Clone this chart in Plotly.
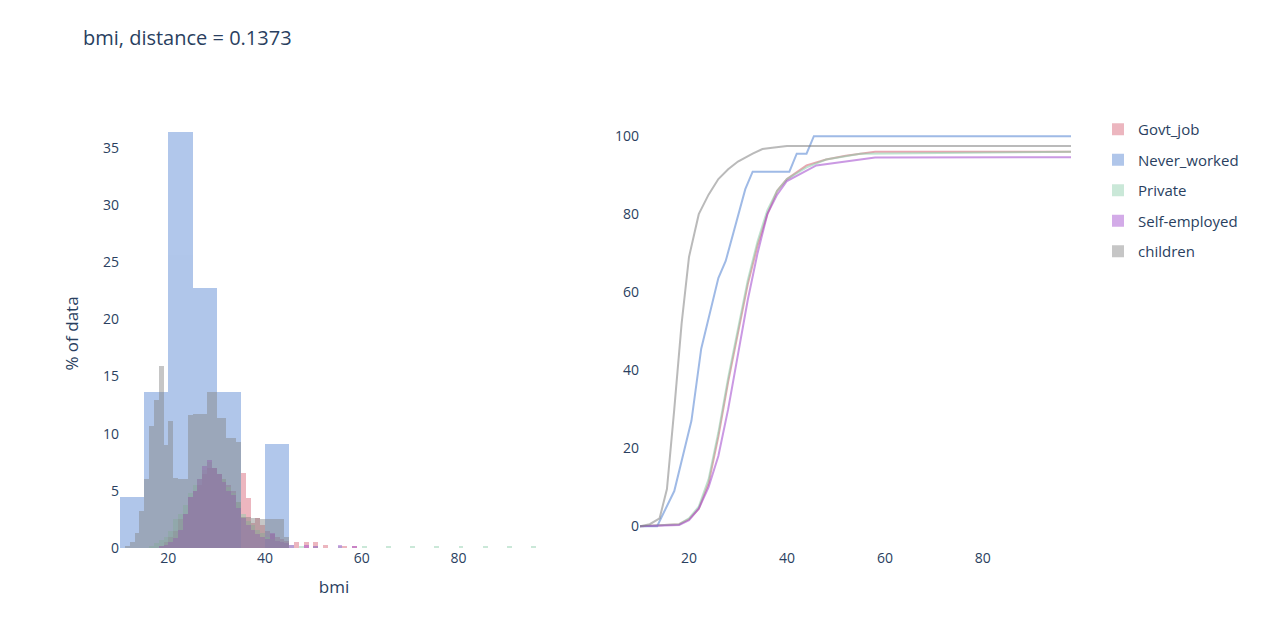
import plotly.graph_objects as go
import numpy as np

groups = ["Govt_job", "Never_worked", "Private", "Self-employed", "children"]
colors = ["rgb(214,96,115)", "rgb(82,130,210)", "rgb(140,205,170)", "rgb(160,70,205)", "rgb(130,130,130)"]

# histogram data (bin start, % of data), bin width per group
hist_width = {"Govt_job": 1, "Never_worked": 5, "Private": 1, "Self-employed": 1, "children": 1}
govt_x = [18,19,20,21,22,23,24,25,26,27,28,29,30,31,32,33,34,35,36,37,38,39,40,41,42,43,44,46,48,50,52,56,58]
govt_y = [0.2,0.5,1,1.5,2.5,3,4.5,5,5.5,6.5,7,7,6.5,6,5.5,5,4,6.6,4.4,2.2,2.6,2,1.5,1.2,1,0.8,0.6,0.5,0.5,0.5,0.3,0.2,0.2]
never_x = [10,15,20,25,30,35,40]
never_y = [4.5,13.6,36.4,22.7,13.6,0,9.1]
priv_x = [16,17,18,19,20,21,22,23,24,25,26,27,28,29,30,31,32,33,34,35,36,37,38,39,40,41,42,43,44,45,47,50,55,60,65,70,75,80,85,90,95]
priv_y = [0.2,0.4,0.7,1,1.5,2.5,3,3.8,4.8,5.5,6,6.8,7.5,7,6.5,6,5.3,4.8,4,3,2.4,2,1.6,1.3,1,0.8,0.6,0.5,0.4,0.3,0.2,0.15,0.1,0.1,0.1,0.1,0.1,0.1,0.1,0.1,0.1]
self_x = [18,19,20,21,22,23,24,25,26,27,28,29,30,31,32,33,34,35,36,37,38,39,40,41,42,43,44,45,48,50,55,58]
self_y = [0.2,0.3,0.5,0.9,1.6,3,4.5,5,6,7.2,7.7,7,6.5,5.8,5,4.6,3.5,2.6,2,1.6,1.2,1,0.8,1.3,0.6,0.5,0.4,0.3,0.3,0.2,0.3,0.2]
child_x = [11,12,13,14,15,16,17,18,19,20,21,22,23,24,25,26,27,28,29,30,31,32,33,34,35,36,37,38,39,40,41,42,43,44]
child_y = [0.2,0.5,1.3,3.2,6,10.7,12.9,15.9,9,11.1,6.1,6,6,11.6,11.7,11.7,11.7,13.6,13.6,11.4,11.4,9.6,9.6,9.3,2.7,2.7,2.6,2.6,2.5,2.5,2.5,2.5,2.5,1]

# cumulative curves (bmi, cumulative %)
cdf = {
    "Govt_job": ([10,18,20,22,24,26,28,30,32,34,36,38,40,44,48,52,58,98],
                 [0,0.5,1.8,4.5,11,23,37,50,62,72,80,86,89,92.5,94,95,96,96]),
    "Never_worked": ([10,13.5,17,20.5,22.5,26,27.5,31.5,33,40.5,42,44,45.5,98],
                     [0,0,9,27,45.5,63.6,68,86.4,90.9,90.9,95.5,95.5,100,100]),
    "Private": ([10,18,20,22,24,26,28,30,32,34,36,38,40,44,48,55,98],
                [0,0.5,2,5,12,24,38,51,63,73,81,86,89,92,94,95.5,96]),
    "Self-employed": ([10,18,20,22,24,26,28,30,32,34,36,38,40,46,52,58,98],
                      [0,0.3,1.5,4.5,10,18,30,44,58,70,80,85,88.5,92.5,93.5,94.5,94.6]),
    "children": ([10,12,14,15.5,17,18.5,20,22,24,26,28,30,33,35,37,40,98],
                 [0,0.5,2,9.5,30,52,69,80,85,89,91.5,93.5,95.5,96.7,97,97.5,97.5]),
}
hist = {"Govt_job": (govt_x, govt_y), "Never_worked": (never_x, never_y), "Private": (priv_x, priv_y),
        "Self-employed": (self_x, self_y), "children": (child_x, child_y)}

fig = go.Figure()
for g, c in zip(groups, colors):
    x, y = hist[g]
    w = hist_width[g]
    fig.add_trace(go.Bar(x=[v + w / 2 for v in x], y=y, width=w, name=g, marker_color=c,
                         opacity=0.45, marker_line_width=0, xaxis="x", yaxis="y", legendgroup=g))
for g, c in zip(groups, colors):
    x, y = cdf[g]
    fig.add_trace(go.Scatter(x=x, y=y, mode="lines", line=dict(color=c, width=2), opacity=0.55,
                             showlegend=False, xaxis="x2", yaxis="y2", legendgroup=g))

fig.update_layout(
    template="plotly_white", width=1280, height=620, barmode="overlay", bargap=0,
    margin=dict(l=0, r=0, t=0, b=0),
    font=dict(family="Open Sans", size=14, color="#2a3f5f"),
    title=dict(text="bmi, distance = 0.1373", x=75/1280, y=1-30/620, xanchor="left", yanchor="middle",
               font=dict(size=20)),
    xaxis=dict(domain=[112/1280, 540/1280], range=[10, 98.5], showgrid=False, zeroline=False,
               tickvals=[20, 40, 60, 80], title=dict(text="bmi", standoff=15), automargin=False),
    yaxis=dict(domain=[80/620, 1-111/620], range=[0, 37.5], showgrid=False, zeroline=False,
               title=dict(text="% of data", standoff=20), automargin=False),
    xaxis2=dict(domain=[632/1280, 1063/1280], range=[10, 98], showgrid=False, zeroline=False,
                tickvals=[20, 40, 60, 80], automargin=False, anchor="y2"),
    yaxis2=dict(domain=[80/620, 1-111/620], range=[-5.6, 104.4], showgrid=False, zeroline=False,
                automargin=False, anchor="x2"),
    legend=dict(x=1090/1280, y=1-105/620, xanchor="left", yanchor="top", font=dict(size=15),
                tracegroupgap=8),
)
fig.write_html("out.html")
